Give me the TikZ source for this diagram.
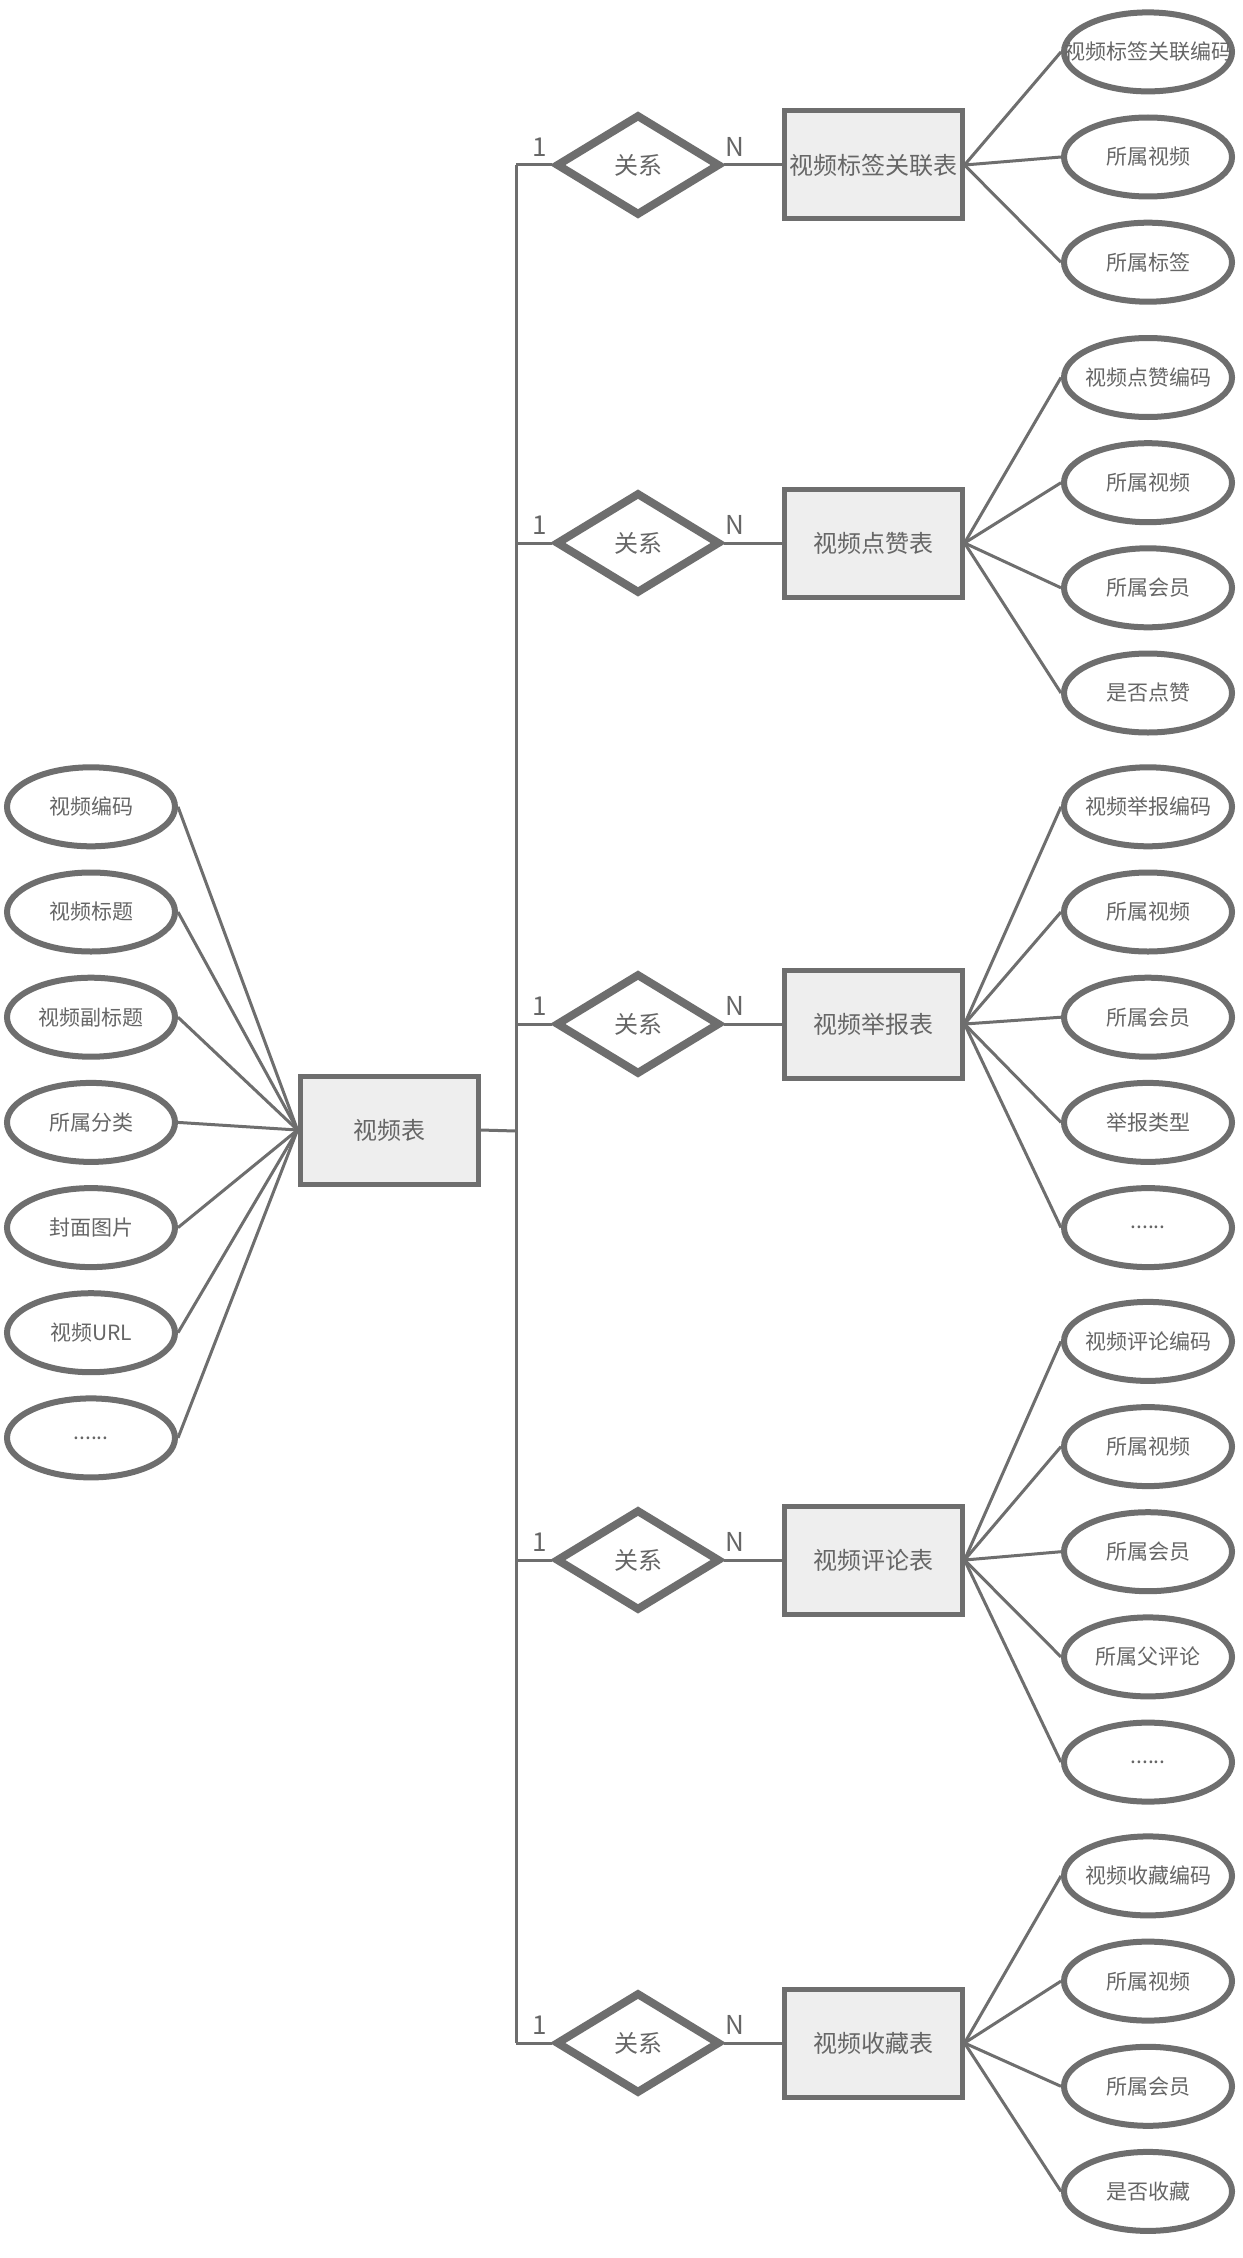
\documentclass[tikz,border=0pt]{standalone}
\usepackage{fontspec}
\setmainfont{Noto Sans CJK SC}
\usetikzlibrary{shapes.geometric}
\definecolor{ln}{HTML}{6E6E6E}
\definecolor{tx}{HTML}{666666}
\definecolor{bx}{HTML}{EEEEEE}
\pgfdeclarelayer{bg}
\pgfsetlayers{bg,main}
\newcommand\mysixdots{......}
\begin{document}
\begin{tikzpicture}[x=1pt,y=-1pt,
  ent/.style={draw=ln, line width=5pt, fill=bx, minimum width=178pt, minimum height=108pt, inner sep=0pt, text=tx, font=\fontsize{24}{28}\selectfont},
  rel/.style={diamond, draw=ln, line width=8pt, fill=white, minimum width=164pt, minimum height=101pt, inner sep=0pt, text=tx, font=\fontsize{24}{28}\selectfont},
  attr/.style={ellipse, draw=ln, line width=6pt, fill=white, minimum width=168pt, minimum height=79pt, inner xsep=-20pt, inner ysep=0pt, text=tx, font=\fontsize{21}{25}\selectfont},
  conn/.style={draw=ln, line width=3pt},
  card/.style={text=tx, font=\fontsize{26}{30}\selectfont, inner sep=0pt}
]
\useasboundingbox (0,0) rectangle (1242,2258);

% main entity
\node[ent] (vt) at (389,1130) {视频表};
\coordinate (bm) at (516,1131);

% left attributes
\foreach \i/\y/\t in {1/806.8/视频编码, 2/912.0/视频标题, 3/1017.2/视频副标题, 4/1122.4/所属分类, 5/1227.6/封面图片, 6/1332.7/视频URL, 7/1437.9/\mysixdots}{
  \node[attr] (l\i) at (91,\y) {\t};
}

% relation groups
\foreach \g/\y/\name in {1/165/视频标签关联表, 2/543/视频点赞表, 3/1024/视频举报表, 4/1560/视频评论表, 5/2043/视频收藏表}{
  \coordinate (b\g) at (516,\y);
  \node[rel] (d\g) at (638,\y) {关系};
  \node[ent] (e\g) at (873,\y) {\name};
  \node[card] (one\g) at (540,\y-18) {1};
  \node[card] (n\g) at (735,\y-18) {N};
}

% right attributes
\node[attr, inner xsep=-40pt] (a11) at (1148,51.9) {视频标签关联编码};
\node[attr] (a12) at (1148,157.0) {所属视频};
\node[attr] (a13) at (1148,262.2) {所属标签};

\foreach \i/\y/\t in {1/377.5/视频点赞编码, 2/482.7/所属视频, 3/587.8/所属会员, 4/693.0/是否点赞}{
  \node[attr] (a2\i) at (1148,\y) {\t};
}
\foreach \i/\y/\t in {1/806.8/视频举报编码, 2/912.0/所属视频, 3/1017.2/所属会员, 4/1122.4/举报类型, 5/1227.6/\mysixdots}{
  \node[attr] (a3\i) at (1148,\y) {\t};
}
\foreach \i/\y/\t in {1/1341.4/视频评论编码, 2/1446.6/所属视频, 3/1551.7/所属会员, 4/1656.9/所属父评论, 5/1762.1/\mysixdots}{
  \node[attr] (a4\i) at (1148,\y) {\t};
}
\foreach \i/\y/\t in {1/1875.9/视频收藏编码, 2/1981.1/所属视频, 3/2086.3/所属会员, 4/2191.4/是否收藏}{
  \node[attr] (a5\i) at (1148,\y) {\t};
}

\begin{pgfonlayer}{bg}
  \fill[white] (0,0) rectangle (1242,2258);
  \draw[conn] (b1) -- (b5);
  \draw[conn] (vt.east) -- (bm);
  \foreach \i in {1,2,3,4,5,6,7} \draw[conn] (l\i.east) -- (vt.west);
  \foreach \g in {1,2,3,4,5}{
    \draw[conn] (b\g) -- (d\g.west);
    \draw[conn] (d\g.east) -- (e\g.west);
  }
  \foreach \i in {1,2,3} \draw[conn] (e1.east) -- (a1\i.west);
  \foreach \i in {1,2,3,4} \draw[conn] (e2.east) -- (a2\i.west);
  \foreach \i in {1,2,3,4,5} \draw[conn] (e3.east) -- (a3\i.west);
  \foreach \i in {1,2,3,4,5} \draw[conn] (e4.east) -- (a4\i.west);
  \foreach \i in {1,2,3,4} \draw[conn] (e5.east) -- (a5\i.west);
\end{pgfonlayer}
\end{tikzpicture}
\end{document}
